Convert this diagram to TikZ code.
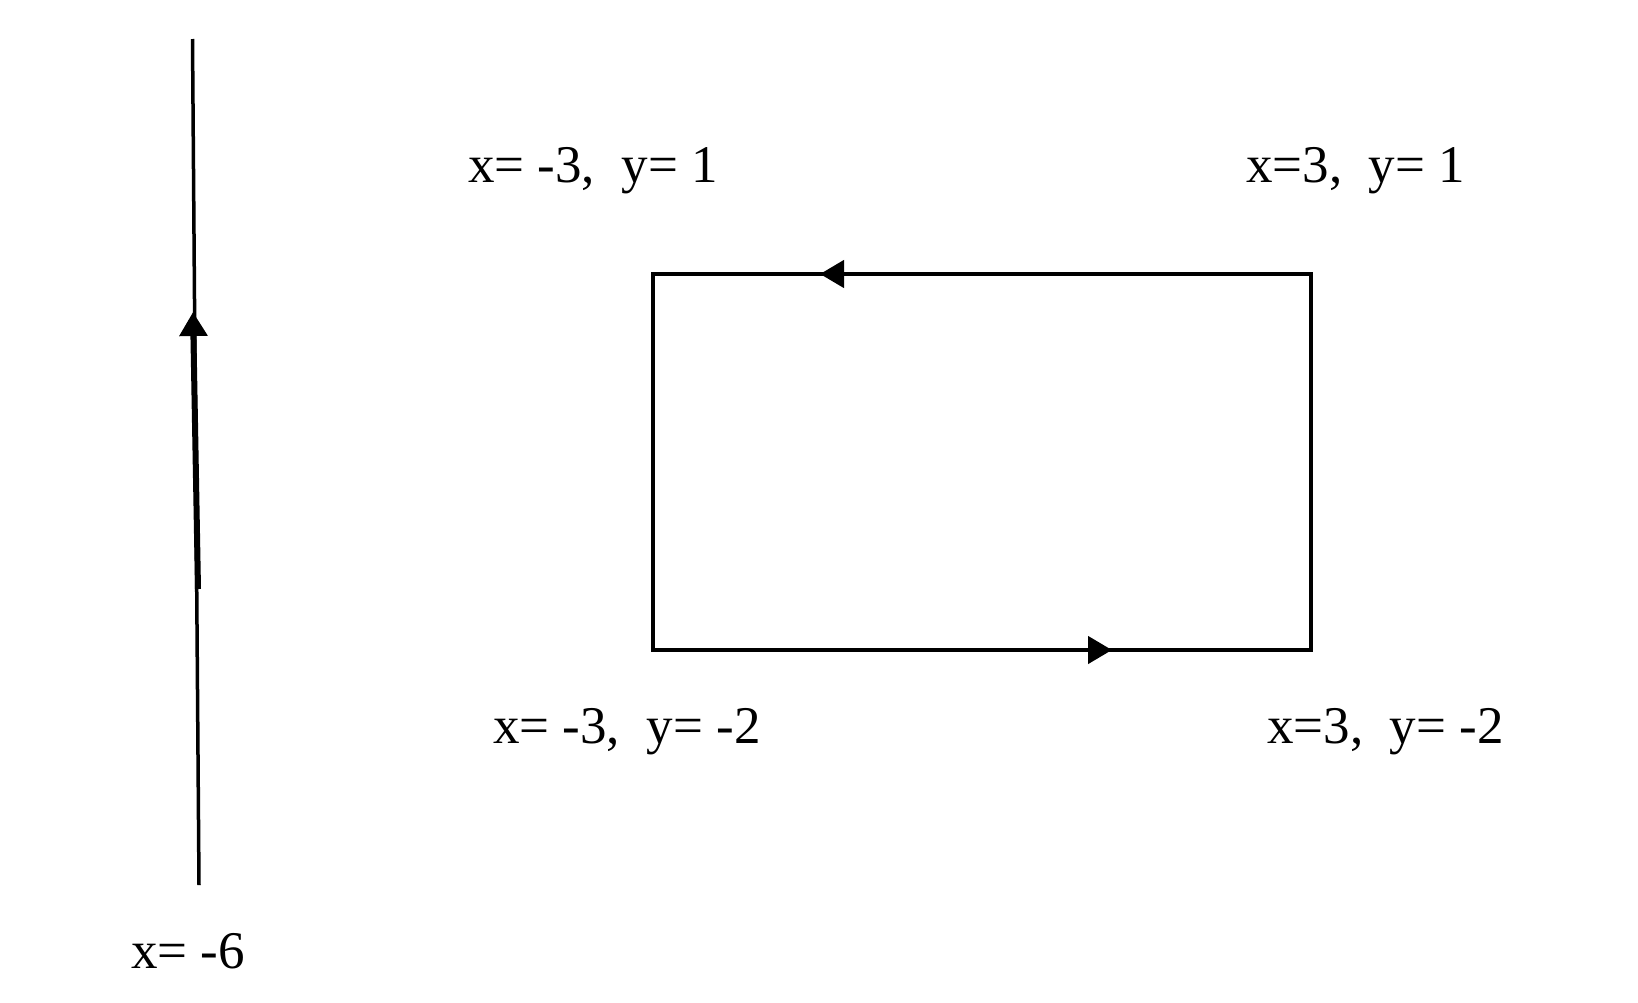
\documentclass[tikz,border=0pt]{standalone}
\usepackage{fontspec}
\setmainfont{Liberation Serif}
\usetikzlibrary{arrows.meta}
\begin{document}
\begin{tikzpicture}[x=1pt,y=-1pt,
  lbl/.style={anchor=base west,inner sep=0pt,font=\fontsize{53}{60}\selectfont},
  tri/.style={-{Triangle[length=24pt,width=27pt]}}]
\useasboundingbox (0,0) rectangle (1638,1002);
% rectangle corners
\coordinate (tl) at (653,274);
\coordinate (tr) at (1311,274);
\coordinate (br) at (1311,650);
\coordinate (bl) at (653,650);
\draw[line width=4pt,line join=miter] (tl) -- (tr) -- (br) -- (bl) -- cycle;
% top arrow
\coordinate (ts) at (1115,274);
\coordinate (te) at (820,274);
\draw[line width=4.5pt,tri] (ts) -- (te);
% bottom arrow
\coordinate (bs) at (730,650);
\coordinate (be) at (1112,650);
\draw[line width=4.5pt,tri] (bs) -- (be);
% vertical line
\coordinate (vt) at (192.5,39);
\coordinate (vb) at (199,885);
\draw[line width=3.5pt] (vb) -- (vt);
\coordinate (vs) at (198,589);
\coordinate (ve) at (193,312);
\draw[line width=6pt,tri] (vs) -- (ve);
% labels
\node[lbl] (l1) at (468,182) {x= -3,\ \ y= 1};
\node[lbl] (l2) at (1246,182) {x=3,\ \ y= 1};
\node[lbl] (l3) at (493,743) {x= -3,\ \ y= -2};
\node[lbl] (l4) at (1267,743) {x=3,\ \ y= -2};
\node[lbl] (l5) at (131,968) {x= -6};
\end{tikzpicture}
\end{document}
